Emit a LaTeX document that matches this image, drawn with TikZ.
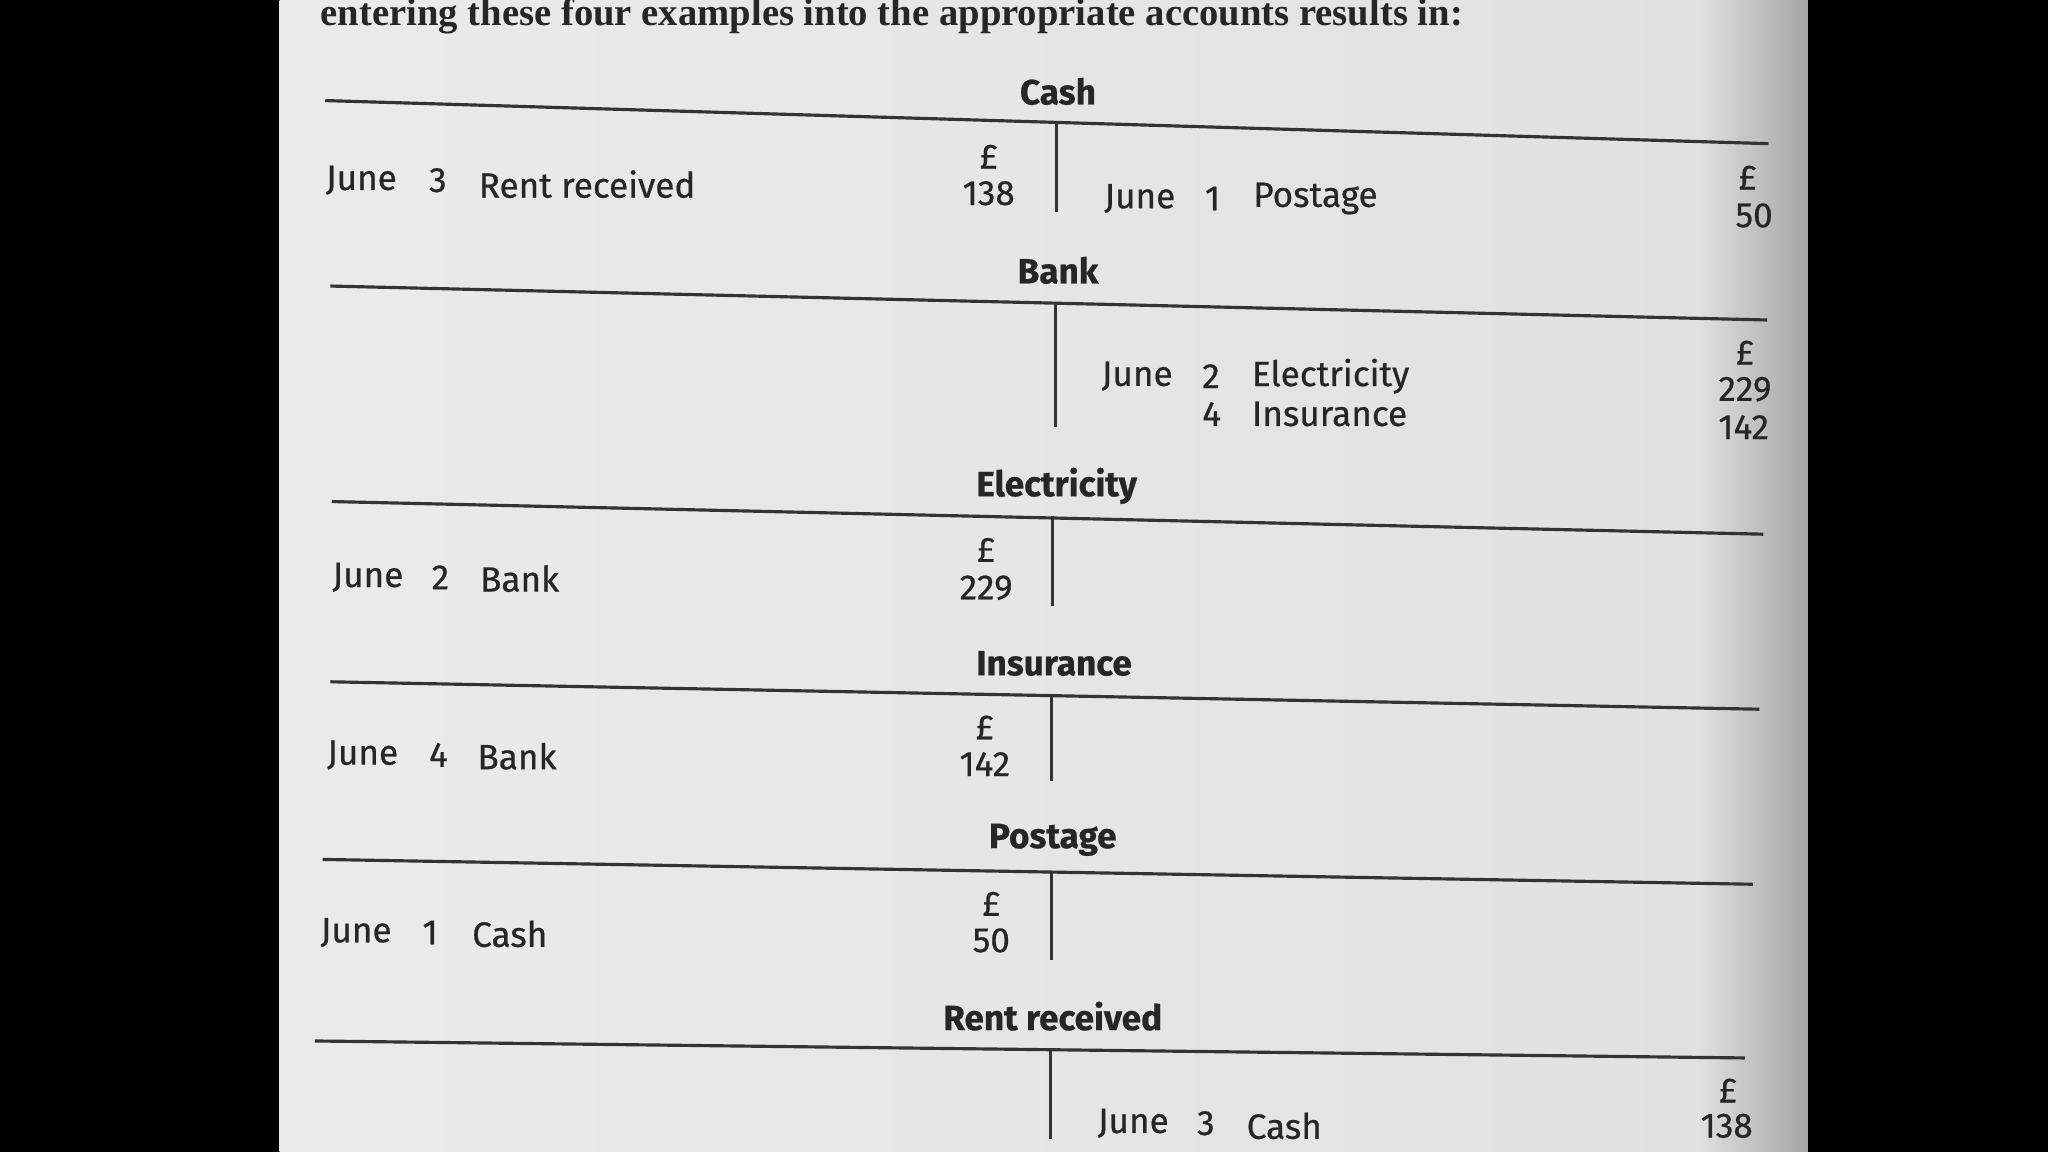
\documentclass[tikz,border=0pt]{standalone}
\usepackage{fontspec}
\setmainfont{Liberation Serif}
\newfontfamily\acc[FakeBold=0.6]{Fira Sans}
\begin{document}
\begin{tikzpicture}[x=0.013061cm,y=-0.013061cm,
  t/.style={anchor=west,inner sep=0pt,font=\acc\fontsize{10}{12}\selectfont,text=black!85},
  n/.style={anchor=center,inner sep=0pt,font=\acc\fontsize{10}{12}\selectfont,text=black!85},
  ttl/.style={anchor=center,inner sep=0pt,font=\acc\bfseries\fontsize{10}{12}\selectfont,text=black!85},
  rl/.style={line width=0.9pt,black!80}]
\fill[black] (0,0) rectangle (1568,882);
\shade[left color=black!8,right color=black!12] (214,0) rectangle (1384,882);
\shade[left color=black!12,right color=black!35] (1300,0) rectangle (1384,882);
\useasboundingbox (0,0) rectangle (1568,882);
\node[anchor=west,inner sep=0pt,font=\fontsize{11}{12}\selectfont,text=black!85] (hd) at (245,12) {\textbf{entering these four examples into the appropriate accounts results in:}};
% Cash
\node[ttl] (c0) at (810,70) {Cash};
\coordinate (c1) at (249,77); \coordinate (c2) at (1354,110);
\draw[rl] (c1) -- (c2);
\coordinate (c3) at (809,95); \coordinate (c4) at (809,162); \draw[rl] (c3)--(c4);
\node[t] (ca) at (249,138) {June}; \node[t] (cb) at (328,138) {3}; \node[t] (cc) at (366,141) {Rent received};
\node[n] (cd) at (757,120) {£}; \node[n] (ce) at (757,148) {138};
\node[t] (cf) at (845,152) {June}; \node[t] (cg) at (922,152) {1}; \node[t] (ch) at (959,152) {Postage};
\node[n] (ci) at (1338,136) {£}; \node[n] (cj) at (1343,165) {50};
% Bank
\node[ttl] (b0) at (810,207) {Bank};
\coordinate (b1) at (253,219); \coordinate (b2) at (1353,245); \draw[rl] (b1)--(b2);
\coordinate (b3) at (808,232); \coordinate (b4) at (808,327); \draw[rl] (b3)--(b4);
\node[t] (ba) at (843,288) {June}; \node[t] (bb) at (920,288) {2}; \node[t] (bc) at (958,288) {Electricity};
\node[t] (bd) at (920,317) {4}; \node[t] (be) at (958,317) {Insurance};
\node[n] (bf) at (1336,270) {£}; \node[n] (bg) at (1336,298) {229}; \node[n] (bh) at (1335,327) {142};
% Electricity
\node[ttl] (e0) at (809,372) {Electricity};
\coordinate (e1) at (254,384); \coordinate (e2) at (1350,409); \draw[rl] (e1)--(e2);
\coordinate (e3) at (806,395); \coordinate (e4) at (806,464); \draw[rl] (e3)--(e4);
\node[t] (ea) at (254,442) {June}; \node[t] (eb) at (330,442) {2}; \node[t] (ec) at (367,443) {Bank};
\node[n] (ed) at (755,421) {£}; \node[n] (ee) at (755,450) {229};
% Insurance
\node[ttl] (i0) at (807,508) {Insurance};
\coordinate (i1) at (253,522); \coordinate (i2) at (1347,543); \draw[rl] (i1)--(i2);
\coordinate (i3) at (805,533); \coordinate (i4) at (805,598); \draw[rl] (i3)--(i4);
\node[t] (ia) at (250,578) {June}; \node[t] (ib) at (328,578) {4}; \node[t] (ic) at (365,579) {Bank};
\node[n] (id) at (754,557) {£}; \node[n] (ie) at (754,585) {142};
% Postage
\node[ttl] (p0) at (806,643) {Postage};
\coordinate (p1) at (247,658); \coordinate (p2) at (1342,677); \draw[rl] (p1)--(p2);
\coordinate (p3) at (805,668); \coordinate (p4) at (805,735); \draw[rl] (p3)--(p4);
\node[t] (pa) at (245,714) {June}; \node[t] (pb) at (323,714) {1}; \node[t] (pc) at (361,715) {Cash};
\node[n] (pd) at (759,692) {£}; \node[n] (pe) at (759,720) {50};
% Rent received
\node[ttl] (r0) at (806,778) {Rent received};
\coordinate (r1) at (241,797); \coordinate (r2) at (1336,810); \draw[rl] (r1)--(r2);
\coordinate (r3) at (804,805); \coordinate (r4) at (804,872); \draw[rl] (r3)--(r4);
\node[t] (ra) at (840,860) {June}; \node[t] (rb) at (916,860) {3}; \node[t] (rc) at (954,862) {Cash};
\node[n] (rd) at (1323,835) {£}; \node[n] (re) at (1322,862) {138};
\end{tikzpicture}
\end{document}
